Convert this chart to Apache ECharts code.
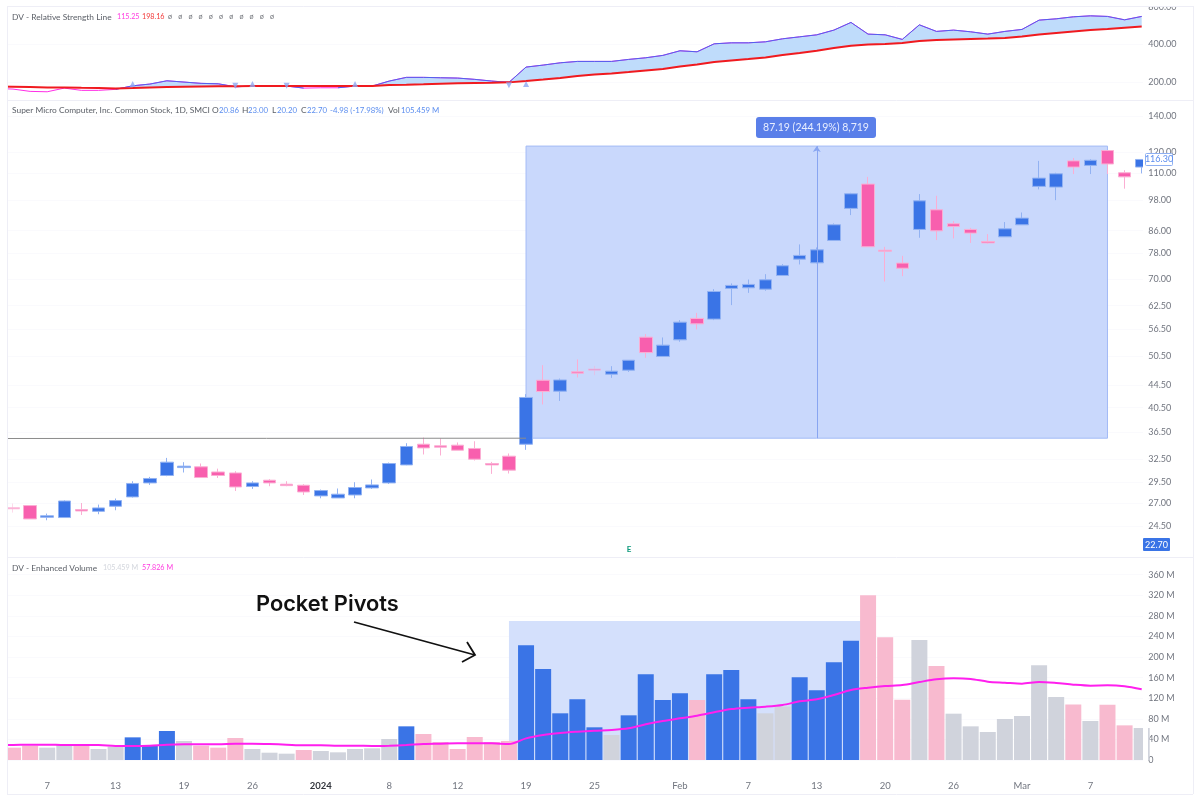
<!DOCTYPE html>
<html>
<head>
<meta charset="utf-8">
<title>SMCI</title>
<style>
  html, body { margin: 0; padding: 0; background: #fff; overflow: hidden; }
  /* canvas starts 20px left of the window so the day before the first candle can run off the edge */
  #main { position: absolute; left: -20px; top: 0; width: 1220px; height: 801px; }
</style>
<script src="https://cdn.jsdelivr.net/npm/echarts@6/dist/echarts.min.js"></script>
</head>
<body>
<div id="main"></div>
<script>
// trading days, the first one only feeds the lines running into the left edge
const categories = ['12-04','12-05','12-06','12-07','12-08','12-11','12-12','12-13','12-14','12-15','12-18','12-19','12-20','12-21','12-22','12-26','12-27','12-28','12-29',
  '01-02','01-03','01-04','01-05','01-08','01-09','01-10','01-11','01-12','01-16','01-17','01-18','01-19','01-22','01-23','01-24','01-25','01-26','01-29','01-30','01-31',
  '02-01','02-02','02-05','02-06','02-07','02-08','02-09','02-12','02-13','02-14','02-15','02-16','02-20','02-21','02-22','02-23','02-26','02-27','02-28','02-29',
  '03-01','03-04','03-05','03-06','03-07','03-08','03-11','03-12']
const tickLabels = { '12-07': '7', '12-13': '13', '12-19': '19', '12-26': '26', '01-02': '{y|2024}', '01-08': '8', '01-12': '12', '01-19': '19', '01-25': '25',
  '02-01': 'Feb', '02-07': '7', '02-13': '13', '02-20': '20', '02-26': '26', '03-01': 'Mar', '03-07': '7' }

const opens = [26.5,26.48,26.71,25.41,25.38,26.26,26.06,26.63,27.71,29.41,30.35,31.39,31.49,30.81,30.68,28.96,29.75,29.25,29.12,27.83,27.59,27.94,28.79,29.41,31.75,34.67,34.44,34.53,34.05,31.94,32.95,
  34.67,45.51,43.44,47.18,47.76,46.7,47.5,54.67,50.36,54.04,59.2,59.03,67.26,67.43,67.05,71.07,76.17,74.98,82.48,94.53,104.82,79.13,74.9,86.44,93.96,88.55,86.44,82.13,83.77,88.15,103.81,103.5,115.7,113.5,120.9,110,112.7]
const closes = [26.4,26.32,25.23,25.57,27.23,26.1,26.44,27.28,29.33,29.97,32.12,31.58,30.09,30.35,28.91,29.41,29.41,29.07,28.3,28.47,28.03,28.84,29.16,31.94,34.34,34.13,34.23,33.8,32.53,31.75,31.05,
  42.3,43.38,45.57,46.9,47.5,47.3,49.56,51.2,52.84,58.27,57.85,66.39,68.12,68.41,69.76,74.05,77.39,79.25,88.17,100.59,80.3,78.8,73.3,97.62,85.92,87.56,85.1,81.63,86.66,90.7,107.53,109.51,112.7,116,114.2,108.1,116.4]
const lows = [26.3,25.92,25.23,25.09,25.38,25.66,25.74,26.18,27.64,29.16,30.26,30.74,30.09,30.04,28.42,28.67,29,29,27.94,27.55,27.59,27.55,28.67,29.28,31.71,33.19,33.05,33.8,32.35,30.56,30.61,
  33.85,41.06,41.68,46.05,46.5,45.98,47.15,50.06,50.27,53.6,56.5,58.78,62.65,66,66.6,71.07,74.48,74.8,82.37,91.87,80.28,69.28,70.87,83.43,82.6,83.2,81.63,81.4,83.77,88.15,102.5,97.9,109.4,109.4,109.4,102.8,109.7]
const highs = [26.6,26.94,26.71,25.81,27.3,27,26.82,27.52,29.62,30.17,32.71,32.12,31.94,31.25,30.91,29.62,29.88,29.62,29.25,28.59,28.72,29.5,29.84,32.07,34.82,35.67,35.53,34.93,35.11,32.16,33.33,
  42.9,48.53,45.85,49.73,48.38,48.32,49.56,55.4,54.6,58.78,60.62,67.05,68.7,69.85,71.47,74.58,81.1,80.07,88.7,101,108.1,80.28,77.26,100.46,99.74,89.6,87,84.74,89.2,92.9,115.7,110,117.1,116.5,120.9,111.2,116.4]
// the two candles drawn faded in the picture
const fadedCandles = [1, 35]

const rsLine = [178,175.8,168.5,167.3,179,171.7,171.7,174.9,186.8,192.8,204.8,200,195.3,193.8,183.4,185.8,185.8,185.8,179,180.1,180.1,185.8,185.8,203.7,218.1,218.1,216.6,215.3,210.2,203.7,199,
  263.5,273.4,285.1,292.5,292.5,292.5,303.5,312.8,326.8,355.8,349.2,404.4,411.9,411.9,419.6,443.4,460,477.2,520.3,599.4,483.4,477.2,438.5,573.5,508.1,520.3,504.4,483.4,508.1,527,625.3,640.5,664.5,676.8,669.4,628.8,669.4]
const rsAverage = [184.1,183.4,182.4,181.4,180.8,179.8,179.1,178.1,179.1,180.8,182.4,183.4,184.1,184.8,185.1,185.8,185.8,185.8,185.8,185.8,185.8,185.8,185.8,189.3,190.3,191.8,193.5,195.3,196.4,197.4,198.9,
  203.7,209.3,215.3,223.4,229.7,234.1,240.4,247.3,254.4,265.9,276.9,288.9,297,305.3,315,328.6,340.9,355.6,373.7,390.3,398.5,402.2,409.7,425,432.9,438.5,442.5,445,450.8,463.4,480.7,494.1,508,520.3,531.8,544.7,556.9]
const markUpIdx = [8, 15, 21, 31]
const markDownIdx = [14, 17, 30]
const markUpValue = [192.8, 192.8, 192.8, 192.8]
const markDownValue = [186.8, 186.8, 188.8]

// volume in millions, kind: b = pocket pivot, p = down day, g = up day
const volume = [24,24,27.8,24,29,29,21.4,26,44,29,56.3,36.9,27.8,24,42.7,21.4,14.2,12.3,19.4,17.5,14.9,21.4,22.7,40.8,65.4,50.5,35,21.4,44.7,35,37,
  222.8,176.8,90.7,117.9,63.5,48.6,86.8,166.4,116.6,129.5,116.6,166.4,174.9,117.9,90.7,104,160.6,135.3,189.7,231.8,320,238.3,117.2,233,182.6,90,65.4,54.4,79.7,85.5,183.9,122.4,108,75.8,107.5,67.3,62.2]
const volumeKind = 'gppggpggbbbgpppgggpgggggbppppppbbbbbgbbbbpbbbggbbbbpppgpgggggggpgppg'.split('')
const volumeAverage = [29,29.1,29.8,29.8,29.1,29.1,29.1,27.2,27.2,27.8,29.8,30.4,30.4,30.4,31.7,31.7,31.1,29.8,28.5,28.5,27.8,27.8,27.2,27.8,29.1,31.1,31.7,32.4,32.4,32.4,31,
  42,48.6,52.5,55,57,58.3,61.5,69.3,75.8,81,86,92.6,99,101.7,103.6,106.9,114,117.9,126.3,136,140.5,143.8,145.7,151.5,156.7,158.7,157.4,152.2,150.2,148.3,151.5,149.6,146.4,144.4,145,143.1,137.3]

const priceTicks = [24.5,27,29.5,32.5,36.5,40.5,44.5,50.5,56.5,62.5,70,78,86,98,110,120,140]
const rsTicks = [200,400,800]
const volumeTicks = [0,40,80,120,160,200,240,280,320,360]

const BLUE = '#3a74e6'
const PINK = '#f85fae'
const FONT = 'Lato'
const kindColor = { b: BLUE, p: '#f8bacf', g: '#d0d3dc' }

const chart = echarts.init(document.getElementById('main'))

const candleData = categories.map((c, i) => {
  const item = { value: [opens[i], closes[i], lows[i], highs[i]] }
  if (fadedCandles.includes(i)) item.itemStyle = { opacity: 0.45 }
  return item
})
const above = (i) => rsLine[i] >= rsAverage[i]
const rsBlue = rsLine.map((v, i) => (above(i) || above(i - 1) || above(i + 1) ? v : null))
const rsGap = rsLine.map((v, i) => Math.max(v - rsAverage[i], 0))
const volumeData = volume.map((v, i) => ({ value: v, itemStyle: { color: kindColor[volumeKind[i]] } }))

const axisText = { color: '#71757f', fontFamily: FONT, fontSize: 9, margin: -2 }
const faintLine = { show: true, lineStyle: { color: '#fafafd', width: 1 } }

function yAxisFor(gridIndex, extra, ticks, fmt) {
  return Object.assign({
    gridIndex,
    position: 'right',
    axisLine: { show: false },
    axisTick: { show: false, customValues: ticks },
    splitLine: faintLine,
    axisLabel: Object.assign({}, axisText, { customValues: ticks, formatter: fmt }),
  }, extra)
}

function xAxisFor(gridIndex, showLabels) {
  return {
    type: 'category',
    gridIndex,
    data: categories,
    boundaryGap: true,
    axisLine: { show: false },
    axisTick: { show: false },
    splitLine: { show: false },
    axisLabel: showLabels ? {
      interval: 0,
      margin: 21,
      hideOverlap: false,
      color: '#71757f',
      fontFamily: FONT,
      fontSize: 9.5,
      formatter: (v) => tickLabels[v] || '',
      rich: { y: { fontWeight: 'bold', color: '#33363d', fontFamily: FONT, fontSize: 9.5 } },
    } : { show: false },
  }
}

// header row helper: every piece is [text, x, color], numbers run narrower than the names
function headerFont(color) {
  if (color === GRAY_TEXT) return '8.4px ' + FONT
  if (color === VALUE_BLUE) return '7.8px ' + FONT
  return '7.2px ' + FONT
}
function header(y, pieces) {
  return pieces.map((p) => ({
    type: 'text', z: 95, x: p[1], y,
    style: { text: p[0], fill: p[2], font: headerFont(p[2]), textVerticalAlign: 'middle' },
  }))
}

const GRAY_TEXT = '#5c6068'
const VALUE_BLUE = '#5b8def'
const noRs = []
for (let i = 0; i < 11; i++) noRs.push(['ø', 168 + i * 10.2, '#6f7278'])

const overlay = [
  // crop of the panes, the first and last candle are cut off in the picture
  { type: 'rect', z: 90, shape: { x: -20, y: 0, width: 27, height: 801 }, style: { fill: '#fff' } },
  { type: 'rect', z: 90, shape: { x: 1143, y: 0, width: 5, height: 801 }, style: { fill: '#fff' } },
  { type: 'rect', z: 90, shape: { x: -20, y: 0, width: 1220, height: 6 }, style: { fill: '#fff' } },
  // pane borders
  { type: 'line', z: 91, shape: { x1: 7.5, y1: 6, x2: 7.5, y2: 794 }, style: { stroke: '#eeeef6' } },
  { type: 'line', z: 91, shape: { x1: 1193.5, y1: 6, x2: 1193.5, y2: 794 }, style: { stroke: '#eeeef6' } },
  { type: 'line', z: 91, shape: { x1: 7, y1: 6.5, x2: 1193, y2: 6.5 }, style: { stroke: '#eeeef6' } },
  { type: 'line', z: 91, shape: { x1: 7, y1: 100.5, x2: 1193, y2: 100.5 }, style: { stroke: '#eeeef6' } },
  { type: 'line', z: 91, shape: { x1: 7, y1: 557.5, x2: 1193, y2: 557.5 }, style: { stroke: '#eeeef6' } },
  { type: 'line', z: 91, shape: { x1: 7, y1: 794.5, x2: 1193, y2: 794.5 }, style: { stroke: '#eeeef6' } },
  // measure tooltip
  { type: 'rect', z: 95, shape: { x: 756, y: 117, width: 120, height: 21, r: 3 }, style: { fill: '#5a7fe9' } },
  { type: 'text', z: 96, x: 816, y: 127.5, style: { text: '87.19 (244.19%) 8,719', fill: '#e8eeff', font: '10.5px ' + FONT, textAlign: 'center', textVerticalAlign: 'middle' } },
  // price tags on the axis
  { type: 'rect', z: 95, shape: { x: 1145.5, y: 153.5, width: 27, height: 12, r: 1 }, style: { fill: '#fff', stroke: '#8fb0f2', lineWidth: 1 } },
  { type: 'text', z: 96, x: 1159, y: 159.5, style: { text: '116.30', fill: VALUE_BLUE, font: '9px ' + FONT, textAlign: 'center', textVerticalAlign: 'middle' } },
  { type: 'rect', z: 95, shape: { x: 1143, y: 538, width: 27, height: 13, r: 1 }, style: { fill: BLUE } },
  { type: 'text', z: 96, x: 1156.5, y: 545, style: { text: '22.70', fill: '#fff', font: '9px ' + FONT, textAlign: 'center', textVerticalAlign: 'middle' } },
  { type: 'text', z: 95, x: 629, y: 549, style: { text: 'E', fill: '#0d9a7c', font: 'bold 8px ' + FONT, textAlign: 'center', textVerticalAlign: 'middle' } },
  // hand drawn note in the volume pane
  { type: 'text', z: 95, x: 256, y: 604, style: { text: 'Pocket Pivots', fill: '#111', font: '600 21.8px Inter', textVerticalAlign: 'middle' } },
  { type: 'line', z: 95, shape: { x1: 354, y1: 622, x2: 475, y2: 655 }, style: { stroke: '#111', lineWidth: 1.8 } },
  { type: 'polyline', z: 95, shape: { points: [[467, 642], [475, 655], [462, 662]] }, style: { stroke: '#111', fill: 'none', lineWidth: 1.8 } },
].concat(
  header(17, [['DV - Relative Strength Line', 12, GRAY_TEXT], ['115.25', 117, '#ff3de0'], ['198.16', 142, '#f23a3a']].concat(noRs)),
  header(110, [['Super Micro Computer, Inc. Common Stock, 1D, SMCI', 12, GRAY_TEXT],
    ['O', 212, GRAY_TEXT], ['20.86', 219, VALUE_BLUE], ['H', 242, GRAY_TEXT], ['23.00', 248, VALUE_BLUE],
    ['L', 272, GRAY_TEXT], ['20.20', 277, VALUE_BLUE], ['C', 301, GRAY_TEXT], ['22.70', 307, VALUE_BLUE],
    ['-4.98 (-17.98%)', 330, VALUE_BLUE], ['Vol', 388, GRAY_TEXT], ['105.459 M', 401, VALUE_BLUE]]),
  header(568, [['DV - Enhanced Volume', 12, GRAY_TEXT], ['105.459 M', 103, '#d3d6dd'], ['57.826 M', 142, '#ff3de0']])
)

const gridLeft = 7.35
const gridWidth = 1162.9

const option = {
  animation: false,
  backgroundColor: '#fff',
  textStyle: { fontFamily: FONT },
  grid: [
    { left: gridLeft, width: gridWidth, top: 6, height: 94 },
    { left: gridLeft, width: gridWidth, top: 100, height: 457 },
    { left: gridLeft, width: gridWidth, top: 557, height: 203 },
  ],
  xAxis: [xAxisFor(0, false), xAxisFor(1, false), xAxisFor(2, true)],
  yAxis: [
    yAxisFor(0, { type: 'log', logBase: 2, min: 143.8, max: 811 }, rsTicks, (v) => v.toFixed(2)),
    yAxisFor(1, { type: 'log', logBase: 10, min: 21.46, max: 149.9 }, priceTicks, (v) => v.toFixed(2)),
    yAxisFor(2, { type: 'value', min: 0, max: 394.4 }, volumeTicks, (v) => (v === 0 ? '0' : v + ' M')),
  ],
  graphic: [{ type: 'group', x: 20, y: 0, children: overlay }],
  series: [
    { name: 'rs magenta', type: 'line', xAxisIndex: 0, yAxisIndex: 0, data: rsLine, showSymbol: false, z: 2, lineStyle: { color: '#ff2ee6', width: 1 } },
    { name: 'rs base', type: 'line', xAxisIndex: 0, yAxisIndex: 0, data: rsAverage, stack: 'rs', showSymbol: false, silent: true, lineStyle: { opacity: 0 } },
    { name: 'rs gap', type: 'line', xAxisIndex: 0, yAxisIndex: 0, data: rsGap, stack: 'rs', showSymbol: false, silent: true, lineStyle: { opacity: 0 }, areaStyle: { color: '#bfdcfb', opacity: 1 }, z: 2 },
    { name: 'rs', type: 'line', xAxisIndex: 0, yAxisIndex: 0, data: rsBlue, showSymbol: false, z: 3, lineStyle: { color: '#4f62ee', width: 1 } },
    { name: 'rs average', type: 'line', xAxisIndex: 0, yAxisIndex: 0, data: rsAverage, showSymbol: false, z: 4, lineStyle: { color: '#f01a1f', width: 2 } },
    { name: 'rs up', type: 'scatter', xAxisIndex: 0, yAxisIndex: 0, data: markUpIdx.map((x, i) => [x, markUpValue[i]]), symbol: 'triangle', symbolSize: 6, z: 5, itemStyle: { color: '#8fa8f2' } },
    { name: 'rs down', type: 'scatter', xAxisIndex: 0, yAxisIndex: 0, data: markDownIdx.map((x, i) => [x, markDownValue[i]]), symbol: 'triangle', symbolRotate: 180, symbolSize: 6, z: 5, itemStyle: { color: '#8fa8f2' } },
    {
      name: 'SMCI',
      type: 'candlestick',
      xAxisIndex: 1,
      yAxisIndex: 1,
      data: candleData,
      barWidth: 13,
      itemStyle: { color: BLUE, color0: PINK, borderColor: '#92b2f2', borderColor0: '#fbaed3', borderWidth: 1 },
      markArea: {
        silent: true,
        itemStyle: { color: '#c9d8fc', borderColor: '#a3bbf6', borderWidth: 1 },
        data: [[{ coord: [31, 123.22] }, { coord: [65, 35.57] }]],
      },
      markLine: {
        silent: true,
        symbol: ['none', 'none'],
        label: { show: false },
        data: [
          [{ x: 27, y: 438.5, lineStyle: { color: '#8c8c8c', width: 1, type: 'solid' } }, { coord: [31, 35.57] }],
          [{ coord: [48, 35.57], symbol: 'none', lineStyle: { color: '#88a5f1', width: 1, type: 'solid' } }, { coord: [48, 123.22], symbol: 'arrow', symbolSize: 6 }],
        ],
      },
    },
    { name: 'volume', type: 'bar', xAxisIndex: 2, yAxisIndex: 2, data: volumeData, barWidth: 16 },
    {
      name: 'volume average',
      type: 'line',
      xAxisIndex: 2,
      yAxisIndex: 2,
      data: volumeAverage,
      smooth: 0.3,
      showSymbol: false,
      z: 4,
      lineStyle: { color: '#ff1fee', width: 2 },
      markArea: {
        silent: true,
        z: 1,
        itemStyle: { color: '#d4e0fc' },
        data: [[{ coord: [30, 270] }, { coord: [51, 0] }]],
      },
    },
  ],
}
chart.setOption(option)
</script>
</body>
</html>
